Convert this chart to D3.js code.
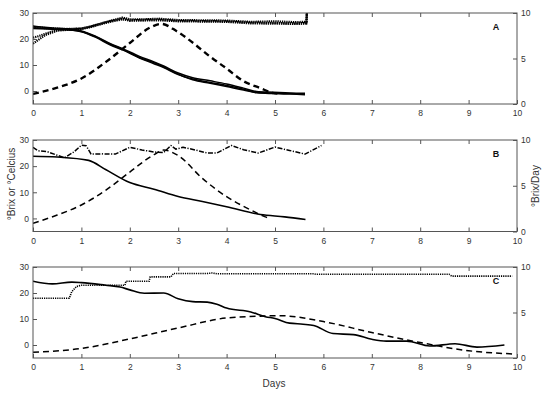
<!DOCTYPE html>
<html><head><meta charset="utf-8">
<script src="https://cdn.jsdelivr.net/npm/d3@7"></script>
<style>
body{margin:0;background:#fff;}
svg{font-family:"Liberation Sans",Arial,sans-serif;}
</style></head>
<body><svg id="c" width="550" height="395"></svg>
<script>
// ---------- data ----------
const xTicks = [0,1,2,3,4,5,6,7,8,9,10];
const leftTicks = [0,10,20,30];
const rightTicks = [0,5,10];
const panelLabels = ["A","B","C"];

// Panel A
const daysA_brix = [0,0.3,0.6,0.8,1.0,1.3,1.6,1.85,2.2,2.5,2.7,3.0,3.3,3.66,4.0,4.35,4.62,4.97,5.3,5.62];
const brixA1 = [24.9,24.4,24.0,23.7,23.1,21.0,18.2,16.3,13.3,11.2,9.6,6.9,5.1,3.9,2.7,1.1,-0.2,-0.5,-0.8,-0.9];
const brixA2 = [24.3,24.0,23.7,23.5,22.8,20.6,17.7,15.8,12.7,10.5,9.0,6.3,4.6,3.3,2.1,0.7,-0.5,-0.8,-1.0,-1.2];
const brixA3 = [24.0,23.8,23.6,23.4,22.9,20.8,18.0,16.0,12.9,10.9,9.3,6.5,4.3,3.0,1.7,0.4,-0.7,-1.0,-1.2,-1.4];
const daysA_t = [0,0.1,0.25,0.5,0.75,1.0,1.2,1.5,1.7,1.85,2.0,2.3,2.6,3.0,3.5,4.0,4.5,5.0,5.4,5.65,5.66];
const tempA1 = [24.9,24.5,24.2,24.0,23.8,24.0,24.8,26.5,27.5,28.2,27.6,27.6,27.8,27.3,27.2,27.1,26.6,26.8,26.5,26.6,31];
const tempA2 = [20.5,21.0,22.0,23.5,23.9,24.0,24.9,26.4,27.3,27.8,27.2,27.4,27.5,27.0,26.9,26.8,26.3,26.2,26.0,26.2,31];
const tempA3 = [18.2,19.5,21.5,23.2,23.6,23.8,24.6,26.2,27.0,27.6,27.0,27.1,27.2,26.8,26.7,26.6,26.0,25.9,25.8,25.9,31];
const daysA_r = [0,0.5,1.0,1.5,2.0,2.4,2.65,2.97,3.31,3.66,4.0,4.35,4.69,4.97,5.05];
const rateA = [1.1,1.8,2.8,4.6,6.7,8.35,8.8,8.0,6.7,5.2,3.9,2.5,1.76,1.2,1.15];

// Panel B
const daysB_brix = [0,0.5,1.15,1.5,2.0,2.5,3.0,3.5,4.0,4.7,5.2,5.63];
const brixB = [23.8,23.5,22.2,18.7,13.7,11.2,8.4,6.5,4.5,1.5,0.6,-0.4];
const daysB_t = [0,0.1,0.3,0.65,0.85,1.0,1.1,1.2,1.45,1.7,2.0,2.25,2.5,2.7,2.85,2.95,3.1,3.35,3.6,3.8,4.1,4.35,4.65,5.0,5.3,5.62,5.96];
const tempB = [27.2,25.9,25.5,23.2,25.5,28.0,27.8,24.6,24.7,24.6,27.2,26.2,25.4,25.2,27.9,26.5,27.2,26.2,25.0,25.0,27.9,26.3,25.0,27.3,26.0,24.6,27.9];
const daysB_r = [0,0.5,1.0,1.5,2.0,2.5,2.7,3.0,3.5,4.0,4.5,4.8,4.9];
const rateB = [0.9,1.8,2.9,4.5,6.5,8.4,8.9,8.3,5.8,3.8,2.35,1.6,1.4];

// Panel C
const daysC_brix = [0,0.4,0.8,1.0,1.5,1.8,2.0,2.3,2.7,3.0,3.3,3.6,3.8,4.0,4.5,4.8,5.0,5.3,5.58,5.8,6.2,6.62,7.0,7.3,7.72,8.2,8.72,9.17,9.74];
const brixC = [24.5,23.5,24.2,24.0,23.0,22.3,21.2,19.9,20.0,17.8,16.7,16.5,15.7,14.2,12.7,10.9,10.2,8.4,8.0,7.5,4.4,4.0,2.2,1.5,1.5,-0.4,0.5,-0.8,0.0];
const daysC_t = [0,0.75,0.8,0.9,1.0,1.9,1.92,2.4,2.42,2.85,2.9,3.6,3.7,3.8,5.8,5.85,8.6,8.65,9.9];
const tempC = [18.0,18.0,20.5,22.5,23.0,23.0,24.5,24.5,26.2,26.2,27.5,27.5,27.7,27.4,27.4,27.2,27.2,26.5,26.5];
const daysC_r = [0,1,2,3,4,4.7,5.1,6,7,8,9,9.9];
const rateC = [0.62,1.05,2.1,3.3,4.4,4.6,4.65,4.0,2.8,1.7,0.8,0.45];

// ---------- layout ----------
const svg = d3.select("#c");
const X0 = 33, X1 = 517;
const panels = [
  {top:13, bottom:104, label:"A",
   series:[
     {d:daysA_brix, v:brixA1, ax:"L", cls:"solidA"},
     {d:daysA_brix, v:brixA2, ax:"L", cls:"solidA"},
     {d:daysA_brix, v:brixA3, ax:"L", cls:"solidA"},
     {d:daysA_t, v:tempA1, ax:"L", cls:"dotA"},
     {d:daysA_t, v:tempA2, ax:"L", cls:"dotA"},
     {d:daysA_t, v:tempA3, ax:"L", cls:"dotA"},
     {d:daysA_r, v:rateA, ax:"R", cls:"dashA"}
   ]},
  {top:140, bottom:231.5, label:"B",
   series:[
     {d:daysB_brix, v:brixB, ax:"L", cls:"solid"},
     {d:daysB_t, v:tempB, ax:"L", cls:"dashdot"},
     {d:daysB_r, v:rateB, ax:"R", cls:"dash"}
   ]},
  {top:267, bottom:358, label:"C",
   series:[
     {d:daysC_brix, v:brixC, ax:"L", cls:"solid"},
     {d:daysC_t, v:tempC, ax:"L", cls:"dot"},
     {d:daysC_r, v:rateC, ax:"R", cls:"dash"}
   ]}
];
const styles = {
  solidA:{w:1.5, dash:null, curve:d3.curveMonotoneX},
  dotA:{w:2.2, dash:"1.3,0.9", curve:d3.curveLinear},
  dashA:{w:2.4, dash:"6,4", curve:d3.curveMonotoneX},
  solid:{w:1.6, dash:null, curve:d3.curveMonotoneX},
  dashdot:{w:1.5, dash:"5,1.5,1.2,1.5", curve:d3.curveLinear},
  dash:{w:1.5, dash:"6,4", curve:d3.curveMonotoneX},
  dot:{w:1.6, dash:"1.2,1", curve:d3.curveLinear}
};

const x = d3.scaleLinear().domain([0,10]).range([X0,X1]);
const axisColor = "#555";
const fs = "8.5px";

panels.forEach((p,i)=>{
  const yL = d3.scaleLinear().domain([-5,30]).range([p.bottom,p.top]);
  const yR = d3.scaleLinear().domain([0,10]).range([p.bottom,p.top]);
  const g = svg.append("g");
  const cid = "clip"+i;
  svg.append("clipPath").attr("id",cid).append("rect")
    .attr("x",X0).attr("y",p.top).attr("width",X1-X0).attr("height",p.bottom-p.top);

  const dg = g.append("g").attr("clip-path","url(#"+cid+")");
  p.series.forEach(s=>{
    const st = styles[s.cls];
    const y = s.ax==="L"?yL:yR;
    const pts = s.d.map((d,k)=>[d,s.v[k]]);
    const line = d3.line().x(q=>x(q[0])).y(q=>y(q[1])).curve(st.curve);
    dg.append("path").attr("d",line(pts)).attr("fill","none")
      .attr("stroke","#000").attr("stroke-width",st.w)
      .attr("stroke-dasharray",st.dash).attr("stroke-linejoin","round");
  });

  // axes
  const styleAxis = sel=>{
    sel.select(".domain").remove();
    sel.selectAll("line").attr("stroke",axisColor);
    sel.selectAll("text").attr("fill","#333").style("font-size",fs);
  };
  g.append("g").attr("transform",`translate(0,${p.bottom})`)
    .call(d3.axisBottom(x).tickValues(xTicks).tickSize(-4).tickPadding(6).tickFormat(d3.format("d")))
    .call(styleAxis);
  g.append("g").attr("transform",`translate(0,${p.top})`)
    .call(d3.axisTop(x).tickValues(xTicks.slice(1,-1)).tickSize(-4).tickFormat(""))
    .call(styleAxis);
  g.append("g").attr("transform",`translate(${X0},0)`)
    .call(d3.axisLeft(yL).tickValues(leftTicks).tickSize(-4).tickPadding(4))
    .call(styleAxis);
  g.append("g").attr("transform",`translate(${X1},0)`)
    .call(d3.axisRight(yR).tickValues(rightTicks).tickSize(-4).tickPadding(4))
    .call(styleAxis);
  g.append("rect").attr("x",X0).attr("y",p.top).attr("width",X1-X0).attr("height",p.bottom-p.top)
    .attr("fill","none").attr("stroke",axisColor).attr("stroke-width",1);

  g.append("text").attr("x",496).attr("y",p.top+17).attr("text-anchor","middle")
    .attr("font-weight","bold").style("font-size","9px").attr("fill","#111").text(panelLabels[i]);
});

svg.append("text").attr("transform","translate(15,184) rotate(-90)").attr("text-anchor","middle")
  .style("font-size","10px").attr("fill","#333").text("°Brix or °Celcius");
svg.append("text").attr("transform","translate(539,186) rotate(-90)").attr("text-anchor","middle")
  .style("font-size","10px").attr("fill","#333").text("°Brix/Day");
svg.append("text").attr("x",274).attr("y",387).attr("text-anchor","middle")
  .style("font-size","10px").attr("fill","#333").text("Days");
</script></body></html>
